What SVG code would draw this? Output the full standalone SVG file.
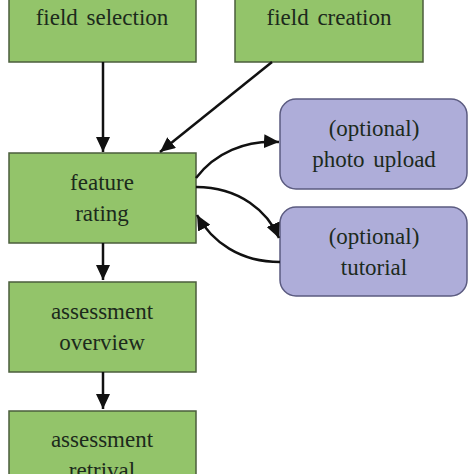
<svg xmlns="http://www.w3.org/2000/svg" width="474" height="474" viewBox="0 0 474 474">
<style>
.g{fill:#93c46a;stroke:#4b5e3c;stroke-width:1.5}
.p{fill:#aeadd9;stroke:#5b5b80;stroke-width:1.5}
.t{font-family:"Liberation Serif","Times New Roman",serif;font-size:23px;fill:#1c2a1c;text-anchor:middle;word-spacing:3px}
.c{fill:none;stroke:#111;stroke-width:2.5}
</style>
<defs>
<marker id="ah" markerUnits="userSpaceOnUse" markerWidth="16" markerHeight="14" refX="15" refY="7" orient="auto">
<path d="M0,0 L15,7 L0,14 Z" fill="#111"/>
</marker>
</defs>
<rect width="474" height="474" fill="#fff"/>
<g id="field-selection"><rect class="g" x="9" y="-10" width="187" height="72"/><text class="t" x="102" y="25">field selection</text></g>
<g id="field-creation"><rect class="g" x="235" y="-10" width="188" height="72"/><text class="t" x="329" y="25">field creation</text></g>
<g id="feature-rating"><rect class="g" x="9" y="153" width="187" height="90"/><text class="t" x="102" y="190">feature</text><text class="t" x="102" y="221">rating</text></g>
<g id="photo-upload"><rect class="p" x="280" y="99" width="187" height="90" rx="16"/><text class="t" x="374" y="136">(optional)</text><text class="t" x="374" y="167">photo upload</text></g>
<g id="tutorial"><rect class="p" x="280" y="207" width="187" height="89" rx="16"/><text class="t" x="374" y="244">(optional)</text><text class="t" x="374" y="275">tutorial</text></g>
<g id="assessment-overview"><rect class="g" x="9" y="282" width="187" height="90"/><text class="t" x="102" y="319">assessment</text><text class="t" x="102" y="350">overview</text></g>
<g id="assessment-retrival"><rect class="g" x="9" y="411" width="187" height="80"/><text class="t" x="102" y="447">assessment</text><text class="t" x="102" y="478">retrival</text></g>
<g id="connectors">
<path class="c" d="M103,62 L103,152" marker-end="url(#ah)"/>
<path class="c" d="M272,62 L160,152" marker-end="url(#ah)"/>
<path class="c" d="M196,178 C215,153 245,140 279,142" marker-end="url(#ah)"/>
<path class="c" d="M196,187 C240,187 268,212 279,238" marker-end="url(#ah)"/>
<path class="c" d="M280,262 C240,262 212,242 197,215" marker-end="url(#ah)"/>
<path class="c" d="M103,243 L103,280" marker-end="url(#ah)"/>
<path class="c" d="M103,372 L103,409" marker-end="url(#ah)"/>
</g>
</svg>
